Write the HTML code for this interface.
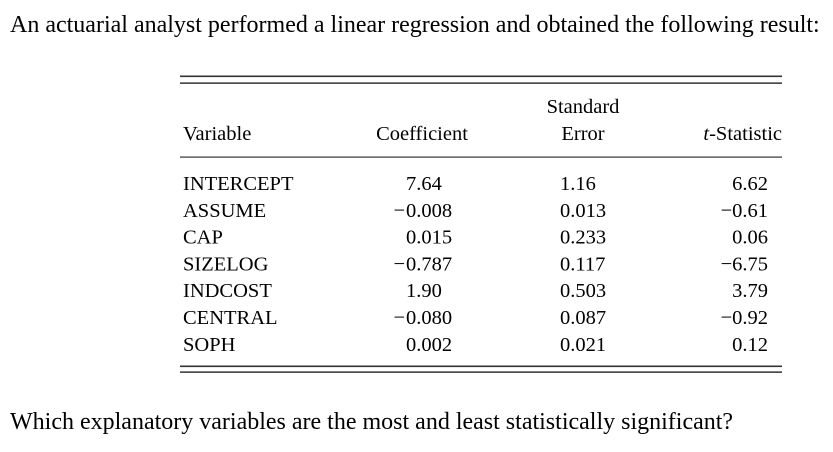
<!DOCTYPE html>
<html><head><meta charset="utf-8"><style>
html,body{margin:0;padding:0;background:#fff;}
svg{display:block;font-family:"Liberation Serif",serif;}
</style></head><body>
<svg width="833" height="452">
<text x="10" y="32" font-size="24" fill="#000">An actuarial analyst performed a linear regression and obtained the following result:</text>
<g font-size="20.5" fill="#000">
<rect x="180" y="75.5" width="602" height="1.6" fill="#333"/>
<rect x="180" y="82.5" width="602" height="1.2" fill="#000"/>
<text x="583" y="113" text-anchor="middle">Standard</text>
<text x="183" y="140">Variable</text>
<text x="422" y="140" text-anchor="middle">Coefficient</text>
<text x="583" y="140" text-anchor="middle">Error</text>
<text x="782" y="140" text-anchor="end"><tspan font-style="italic">t</tspan>-Statistic</text>
<rect x="180" y="156.5" width="602" height="1.2" fill="#333"/>
<g id="rows"></g>
<rect x="180" y="365.5" width="602" height="1.6" fill="#333"/>
<rect x="180" y="371.5" width="602" height="1.2" fill="#000"/>
</g>
<text x="10" y="429" font-size="24" fill="#000">Which explanatory variables are the most and least statistically significant?</text>
</svg>
<script>
const variables=["INTERCEPT","ASSUME","CAP","SIZELOG","INDCOST","CENTRAL","SOPH"];
const coefficients=["7.64","-0.008","0.015","-0.787","1.90","-0.080","0.002"];
const stdErrors=["1.16","0.013","0.233","0.117","0.503","0.087","0.021"];
const tStats=["6.62","-0.61","0.06","-6.75","3.79","-0.92","0.12"];
const g=document.getElementById('rows');
const NS="http://www.w3.org/2000/svg";
function t(x,y,s,anchor){const e=document.createElementNS(NS,'text');e.setAttribute('x',x);e.setAttribute('y',y);if(anchor)e.setAttribute('text-anchor',anchor);e.textContent=s;g.appendChild(e);return e;}
variables.forEach((v,i)=>{
  const y=190+i*26.8;
  const a=t(183,y,v);
  
  
  let c=coefficients[i];
  if(c.startsWith('-')){
    const m=t(405,y,'\u2212','end');
    
    
    c=c.slice(1);
  }
  const b=t(406,y,c);
  
  
  const d=t(560,y,stdErrors[i]);
  
  
  const e=t(768,y,tStats[i].replace('-','\u2212'),'end');
  
  
});
</script>
</body></html>
